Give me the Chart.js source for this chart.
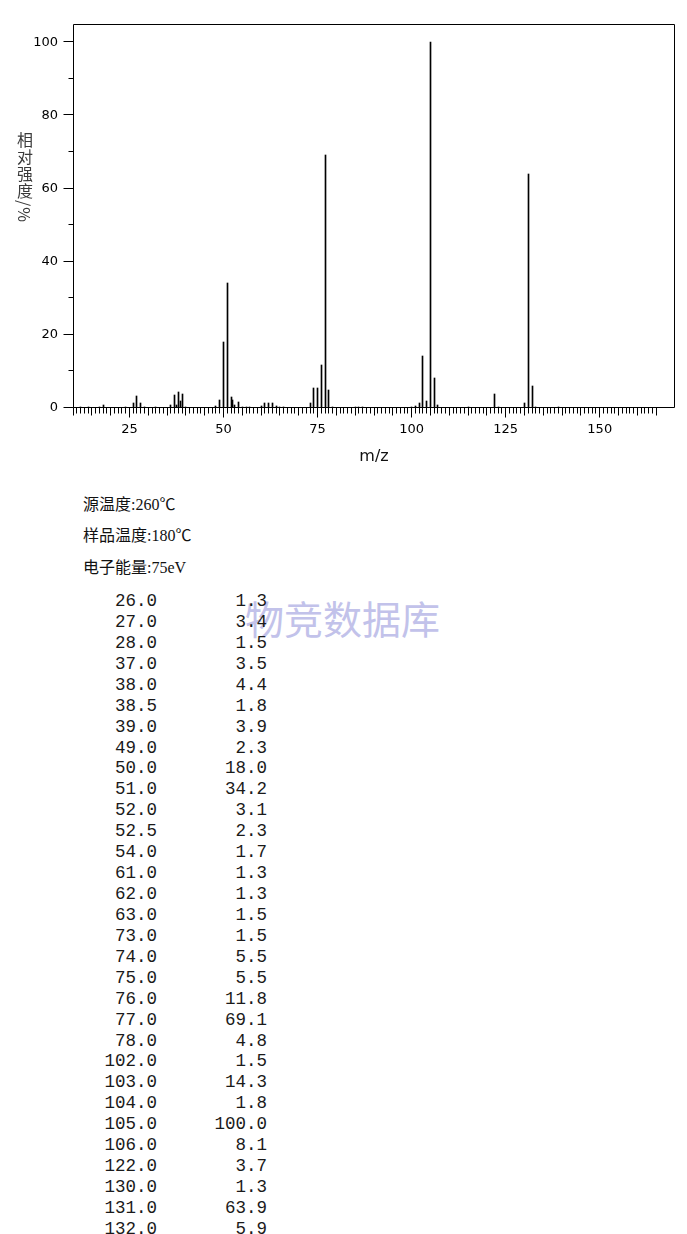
<!DOCTYPE html>
<html>
<head>
<meta charset="utf-8">
<script src="https://cdn.jsdelivr.net/npm/chart.js@4"></script>
<style>
  html, body { margin: 0; padding: 0; background: #fff; }
  body { width: 687px; height: 1234px; position: relative; overflow: hidden; }
  #chartBox { position: absolute; left: 0; top: 0; width: 687px; height: 470px; }
  #ytitle { position: absolute; left: 16px; top: 132px; writing-mode: vertical-rl; font-family: "Noto Sans CJK SC", sans-serif; font-size: 16px; letter-spacing: 1px; line-height: 18px; color: #3a3a3a; }
  .info { position: absolute; left: 83px; font-family: "Liberation Serif", "Noto Sans CJK SC", serif; font-size: 16px; line-height: 20px; color: #111; white-space: nowrap; }
  .row { position: absolute; left: 0; height: 20px; font-family: "Liberation Mono", monospace; font-size: 17.5px; line-height: 20px; color: #1a1a1a; z-index: 2; }
  .c1 { position: absolute; left: 0; width: 157px; text-align: right; }
  .c2 { position: absolute; left: 0; width: 267px; text-align: right; }
  #wm { position: absolute; left: 245px; top: 597px; font-family: "Noto Sans CJK SC", sans-serif; font-size: 39px; line-height: 40px; color: #c2c2ea; z-index: 1; white-space: nowrap; }
</style>
</head>
<body>
<div id="chartBox"><canvas id="c" width="687" height="470"></canvas></div>
<div id="ytitle">相对强度/%</div>
<div class="info" style="top:495px">源温度:260℃</div>
<div class="info" style="top:526px">样品温度:180℃</div>
<div class="info" style="top:558px">电子能量:75eV</div>
<div id="wm">物竞数据库</div>
<div id="table"></div>
<script>
// Main peaks (also listed in the table)
const mzValues = [26, 27, 28, 37, 38, 38.5, 39, 49, 50, 51, 52, 52.5, 54, 61, 62, 63, 73, 74, 75, 76, 77, 78, 102, 103, 104, 105, 106, 122, 130, 131, 132];
const intensities = [1.3, 3.4, 1.5, 3.5, 4.4, 1.8, 3.9, 2.3, 18.0, 34.2, 3.1, 2.3, 1.7, 1.3, 1.3, 1.5, 1.5, 5.5, 5.5, 11.8, 69.1, 4.8, 1.5, 14.3, 1.8, 100.0, 8.1, 3.7, 1.3, 63.9, 5.9];
// Tiny peaks visible on the plot but not listed
const minorMz = [12, 14, 17, 18, 24, 29, 32, 36, 37.5, 40, 48, 53, 55, 56, 57, 60, 64, 65, 66, 79, 85, 86, 87, 100, 101, 107, 115, 123, 133, 139];
const minorInt = [0.4, 0.4, 0.4, 0.8, 0.4, 0.3, 0.3, 0.8, 0.7, 0.3, 0.5, 0.7, 0.4, 0.4, 0.4, 0.5, 0.5, 0.3, 0.3, 0.4, 0.3, 0.3, 0.3, 0.3, 0.5, 0.7, 0.3, 0.4, 0.4, 0.3];
// Tick labels
const xTickLabels = [25, 50, 75, 100, 125, 150];
const yTickLabels = [0, 20, 40, 60, 80, 100];
const yMinorTicks = [10, 30, 50, 70, 90];

// Table
const tbl = document.getElementById('table');
mzValues.forEach((mz, i) => {
  const r = document.createElement('div');
  r.className = 'row';
  r.style.top = (591 + i * 20.93) + 'px';
  r.style.width = '300px';
  r.innerHTML = '<span class="c1">' + mz.toFixed(1) + '</span><span class="c2">' + intensities[i].toFixed(1) + '</span>';
  tbl.appendChild(r);
});

const points = [];
mzValues.forEach((m, i) => points.push({ x: m, y: intensities[i] }));
minorMz.forEach((m, i) => points.push({ x: m, y: minorInt[i] }));
points.sort((a, b) => a.x - b.x);

// Snap 1px bars to whole pixels so they draw crisp
const snapPlugin = {
  id: 'snapBars',
  beforeDatasetsDraw(chart) {
    chart.getDatasetMeta(0).data.forEach(el => {
      el.x = Math.floor(el.x) + 0.5;
      el.y = Math.round(el.y);
    });
  }
};

const framePlugin = {
  id: 'frameTicks',
  afterDraw(chart) {
    const ctx = chart.ctx;
    const a = chart.chartArea;
    const xs = chart.scales.x, ys = chart.scales.y;
    ctx.save();
    ctx.strokeStyle = '#000';
    ctx.lineWidth = 1;
    ctx.beginPath();
    ctx.rect(a.left + 0.5, a.top + 0.5, a.right - a.left - 1, a.bottom - a.top - 1);
    ctx.stroke();
    ctx.beginPath();
    const yb = a.bottom - 0.5;
    for (let v = 10; v <= 165; v++) {
      const px = Math.floor(xs.getPixelForValue(v)) + 0.5;
      let len = 6;
      if (v % 25 === 0) len = 10;
      else if (v % 5 === 0) len = 8;
      ctx.moveTo(px, yb);
      ctx.lineTo(px, yb + len);
    }
    const xl = a.left + 0.5;
    yTickLabels.forEach(v => {
      const py = Math.round(ys.getPixelForValue(v)) - 0.5;
      ctx.moveTo(xl, py); ctx.lineTo(xl - 10, py);
    });
    yMinorTicks.forEach(v => {
      const py = Math.round(ys.getPixelForValue(v)) - 0.5;
      ctx.moveTo(xl, py); ctx.lineTo(xl - 5, py);
    });
    ctx.stroke();
    ctx.restore();
  }
};

new Chart(document.getElementById('c'), {
  type: 'bar',
  data: {
    datasets: [{
      data: points,
      backgroundColor: '#000',
      borderWidth: 0,
      barThickness: 1
    }]
  },
  options: {
    responsive: false,
    devicePixelRatio: 1,
    animation: false,
    layout: { padding: { left: 0, top: 24, right: 12, bottom: 0 } },
    plugins: { legend: { display: false }, tooltip: { enabled: false } },
    scales: {
      x: {
        type: 'linear',
        offset: false,
        min: 10, max: 170,
        afterBuildTicks: s => { s.ticks = xTickLabels.map(v => ({ value: v })); },
        afterFit: s => { s.height = 62; },
        grid: { display: false, drawTicks: false, offset: false },
        border: { display: false },
        ticks: { padding: 14, maxRotation: 0, autoSkip: false, color: '#000', font: { family: 'DejaVu Sans', size: 13 } },
        title: { display: true, text: 'm/z', color: '#111', font: { family: 'DejaVu Sans', size: 16 }, padding: { top: 0, bottom: 4 } }
      },
      y: {
        min: 0, max: 105,
        afterBuildTicks: s => { s.ticks = yTickLabels.map(v => ({ value: v })); },
        afterFit: s => { s.width = 73; },
        grid: { display: false, drawTicks: false },
        border: { display: false },
        ticks: { padding: 15, color: '#000', font: { family: 'DejaVu Sans', size: 13 } }
      }
    }
  },
  plugins: [snapPlugin, framePlugin]
});
</script>
</body>
</html>
